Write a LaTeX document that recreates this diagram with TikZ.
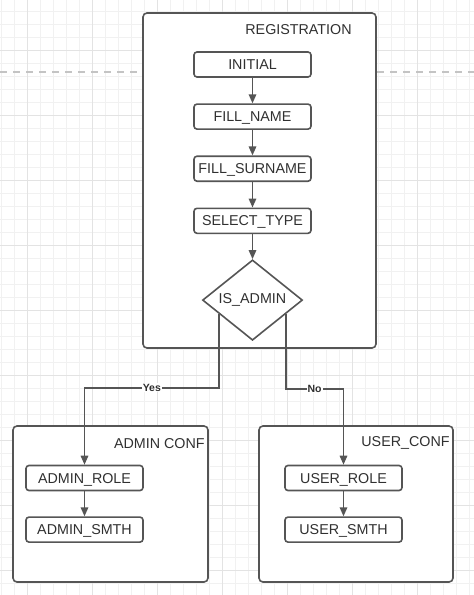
\documentclass[tikz,border=0pt]{standalone}
\usepackage{fontspec}
\setmainfont{Liberation Sans}
\usetikzlibrary{arrows.meta, positioning, calc, shapes.geometric}
\definecolor{edgegray}{HTML}{555555}
\definecolor{textgray}{HTML}{303030}
\definecolor{gridminor}{HTML}{F1F1F1}
\definecolor{gridmajor}{HTML}{E3E3E3}
\definecolor{pagegray}{HTML}{C4C4C4}
\tikzset{
  state/.style     = {draw=edgegray, line width=1.6pt, rectangle, rounded corners=3pt,
                      fill=white, text=textgray, inner sep=0pt,
                      font=\fontsize{14.3}{16}\selectfont, text height=10pt, text depth=0pt,
                      minimum width=117pt, minimum height=25pt},
  decision/.style  = {draw=edgegray, line width=1.6pt, diamond, fill=white, text=textgray,
                      inner sep=0pt, font=\fontsize{14.3}{16}\selectfont,
                      minimum width=100pt, minimum height=76pt},
  container/.style = {draw=edgegray, line width=1.6pt, rectangle, rounded corners=4pt,
                      fill=white, inner sep=0pt},
  title/.style     = {inner sep=0pt, text=textgray, font=\fontsize{14.3}{16}\selectfont},
  arr/.style       = {-{Triangle[length=9pt, width=7.5pt]}, line width=1.6pt, draw=edgegray},
  lbl/.style       = {fill=white, inner sep=1pt, text=textgray,
                      font=\bfseries\fontsize{10.5}{12}\selectfont},
  node distance    = 25.5pt
}

\begin{document}
\begin{tikzpicture}[x=1pt, y=-1pt]

  % ── Canvas and grid ───────────────────────────────────────────────────────
  \fill[white] (0,0) rectangle (474,595);
  \useasboundingbox (0,0) rectangle (474,595);
  \foreach \gx in {1,14,...,470} \draw[gridminor, line width=0.8pt] (\gx,0) -- (\gx,595);
  \foreach \gy in {11,24,...,595} \draw[gridminor, line width=0.8pt] (0,\gy) -- (474,\gy);
  \foreach \gx in {27,92,...,470} \draw[gridmajor, line width=0.8pt] (\gx,0) -- (\gx,595);
  \foreach \gy in {50,115,...,595} \draw[gridmajor, line width=0.8pt] (0,\gy) -- (474,\gy);
  \draw[pagegray, line width=1.2pt, dash pattern=on 7pt off 6pt] (0,72) -- (474,72);

  % ── Containers ────────────────────────────────────────────────────────────
  \node[container, minimum width=233pt, minimum height=335pt] (reg)   at (259.5,180.5) {};
  \node[container, minimum width=195pt, minimum height=156pt] (admin) at (110.5,504)   {};
  \node[container, minimum width=194pt, minimum height=156pt] (user)  at (356,504)     {};

  \node[title, anchor=east] at ($(reg.north east)+(-25,17)$)  {REGISTRATION};
  \node[title, anchor=east] at ($(admin.north east)+(-4,18)$) {ADMIN CONF};
  \node[title, anchor=east] at ($(user.north east)+(-4,18)$)  {USER\_CONF};

  % ── Registration states ───────────────────────────────────────────────────
  \node[state] (init) at (252.5,64.5) {INITIAL};
  \node[state, below=of init]        (fillname)    {FILL\_NAME};
  \node[state, below=of fillname]    (fillsurname) {FILL\_SURNAME};
  \node[state, below=of fillsurname] (selecttype)  {SELECT\_TYPE};
  \node[decision, below=25pt of selecttype] (isadmin) {IS\_ADMIN};

  \foreach \a/\b in {init/fillname, fillname/fillsurname,
                     fillsurname/selecttype, selecttype/isadmin}
    \draw[arr] (\a) -- (\b);

  % ── Admin / user configuration ────────────────────────────────────────────
  \node[state] (adminrole) at (84.5,478) {ADMIN\_ROLE};
  \node[state, below=25pt of adminrole] (adminsmth) {ADMIN\_SMTH};
  \node[state] (userrole) at (343.5,478) {USER\_ROLE};
  \node[state, below=25pt of userrole]  (usersmth)  {USER\_SMTH};

  \draw[arr] (adminrole) -- (adminsmth);
  \draw[arr] (userrole)  -- (usersmth);

  % ── Branches ──────────────────────────────────────────────────────────────
  \coordinate (yesturn) at ($(adminrole.north)+(0,-77)$);
  \coordinate (noturn)  at ($(userrole.north)+(0,-76)$);
  \draw[arr] (isadmin.203) |- node[lbl, pos=0.75]{Yes} (yesturn) -- (adminrole.north);
  \draw[arr] (isadmin.337) |- node[lbl, pos=0.75]{No}  (noturn)  -- (userrole.north);

\end{tikzpicture}
\end{document}
